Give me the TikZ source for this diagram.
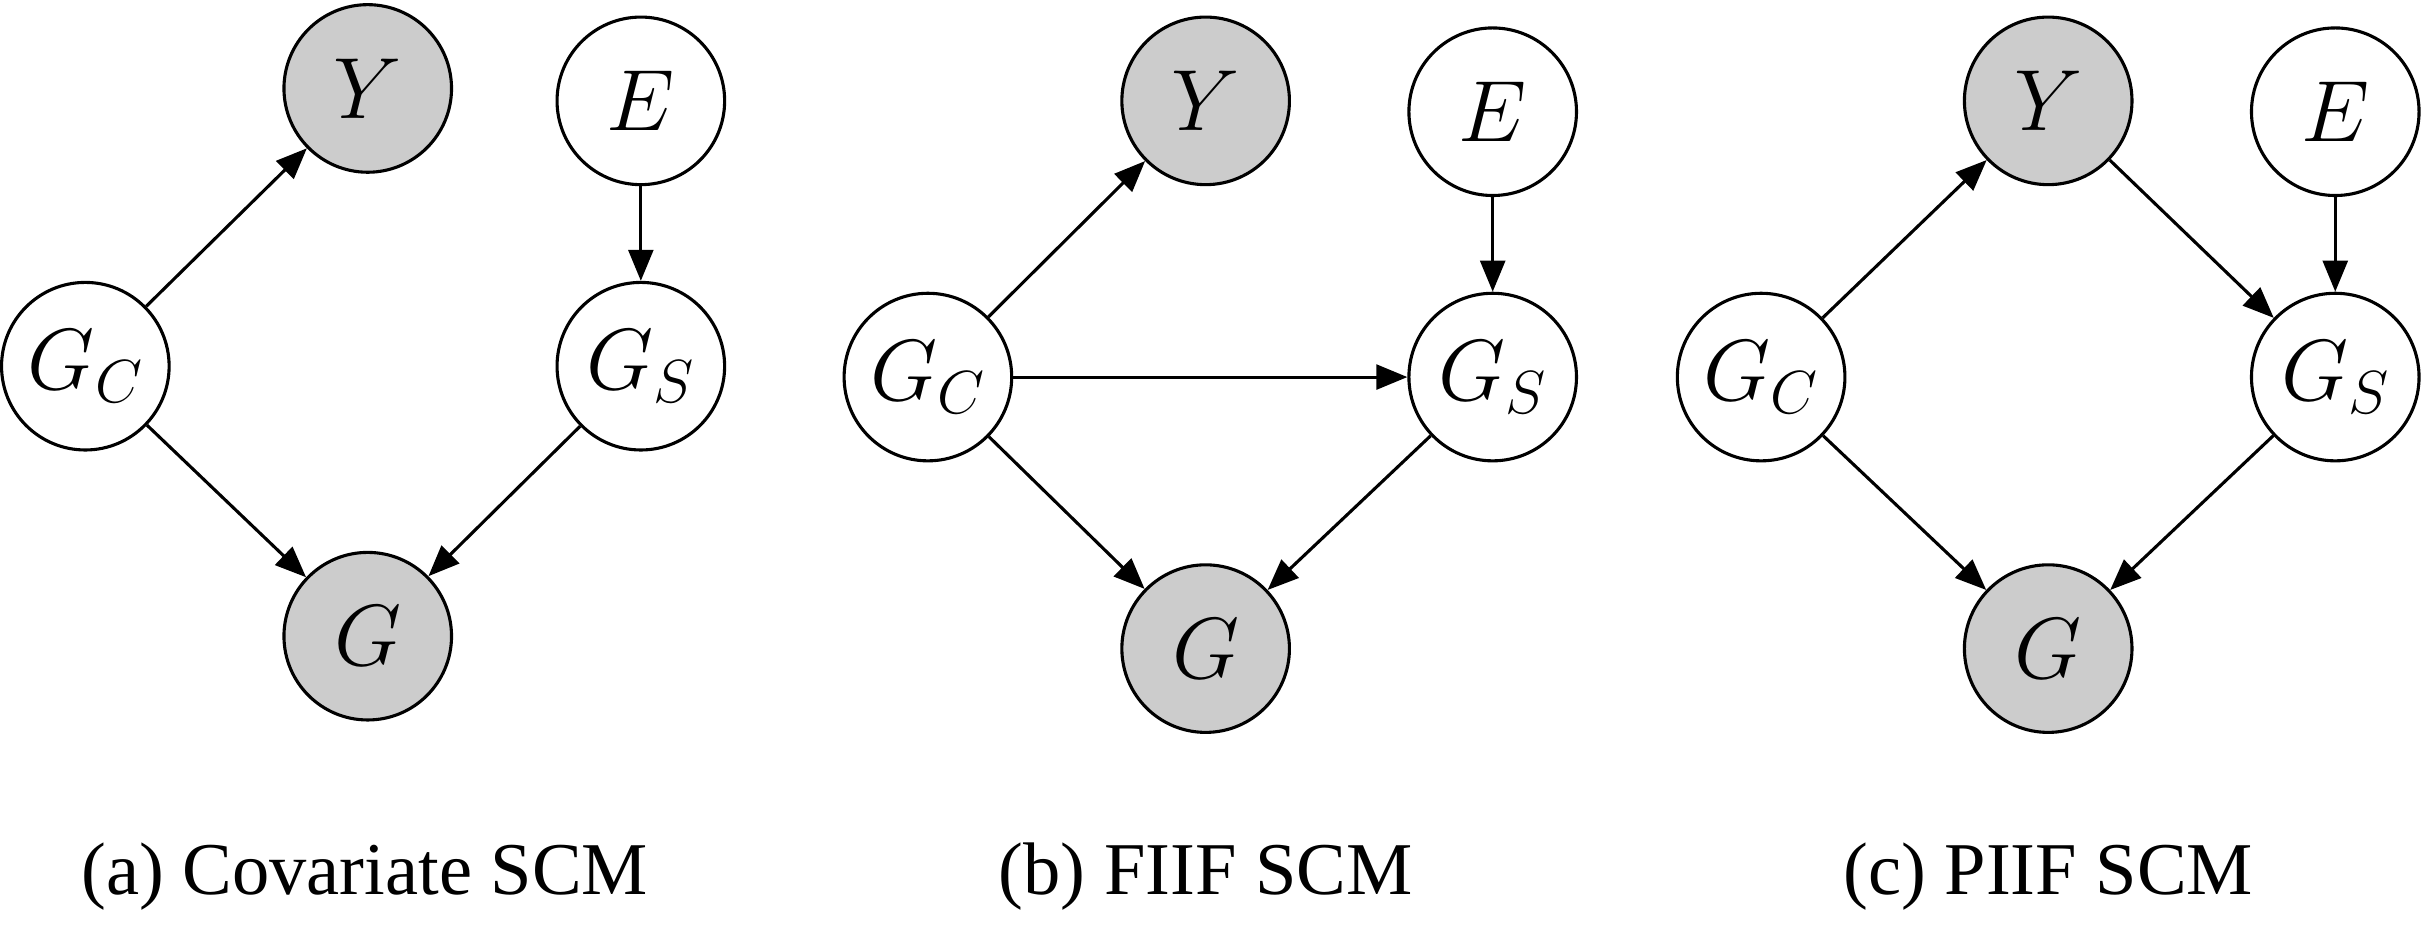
\RequirePackage{fix-cm}
\documentclass[tikz,border=0pt]{standalone}
\usepackage{fontspec}
\newfontfamily\capfont{Liberation Serif}
\usetikzlibrary{arrows.meta}
\begin{document}
\begin{tikzpicture}[x=1pt,y=-1pt,
  v/.style={circle,draw,line width=2pt,minimum size=108pt,inner sep=0pt,font=\fontsize{56}{60}\selectfont},
  o/.style={v,fill=black!20},
  e/.style={-{Triangle[length=20pt,width=16pt]},line width=2pt},
  captext/.style={font=\capfont\fontsize{48}{54}\selectfont}]
\useasboundingbox (0,0) rectangle (1568,611);
% (a)
\node[o] (aY) at (237,57) {$Y$};
\node[v] (aE) at (413,65) {$E$};
\node[v] (aC) at (55,236) {$G_C$};
\node[v] (aS) at (413,236) {$G_S$};
\node[o] (aG) at (237,410) {$G$};
\draw[e] (aC) -- (aY); \draw[e] (aE) -- (aS);
\draw[e] (aC) -- (aG); \draw[e] (aS) -- (aG);
\node[captext] (ca) at (235,565) {(a) Covariate SCM};
% (b)
\node[o] (bY) at (777,65) {$Y$};
\node[v] (bE) at (962,72) {$E$};
\node[v] (bC) at (598,243) {$G_C$};
\node[v] (bS) at (962,243) {$G_S$};
\node[o] (bG) at (777,418) {$G$};
\draw[e] (bC) -- (bY); \draw[e] (bE) -- (bS);
\draw[e] (bC) -- (bG); \draw[e] (bS) -- (bG); \draw[e] (bC) -- (bS);
\node[captext] (cb) at (777,565) {(b) FIIF SCM};
% (c)
\node[o] (cY) at (1320,65) {$Y$};
\node[v] (cE) at (1505,72) {$E$};
\node[v] (cC) at (1135,243) {$G_C$};
\node[v] (cS) at (1505,243) {$G_S$};
\node[o] (cG) at (1320,418) {$G$};
\draw[e] (cC) -- (cY); \draw[e] (cE) -- (cS);
\draw[e] (cC) -- (cG); \draw[e] (cS) -- (cG); \draw[e] (cY) -- (cS);
\node[captext] (cc) at (1320,565) {(c) PIIF SCM};
\end{tikzpicture}
\end{document}
